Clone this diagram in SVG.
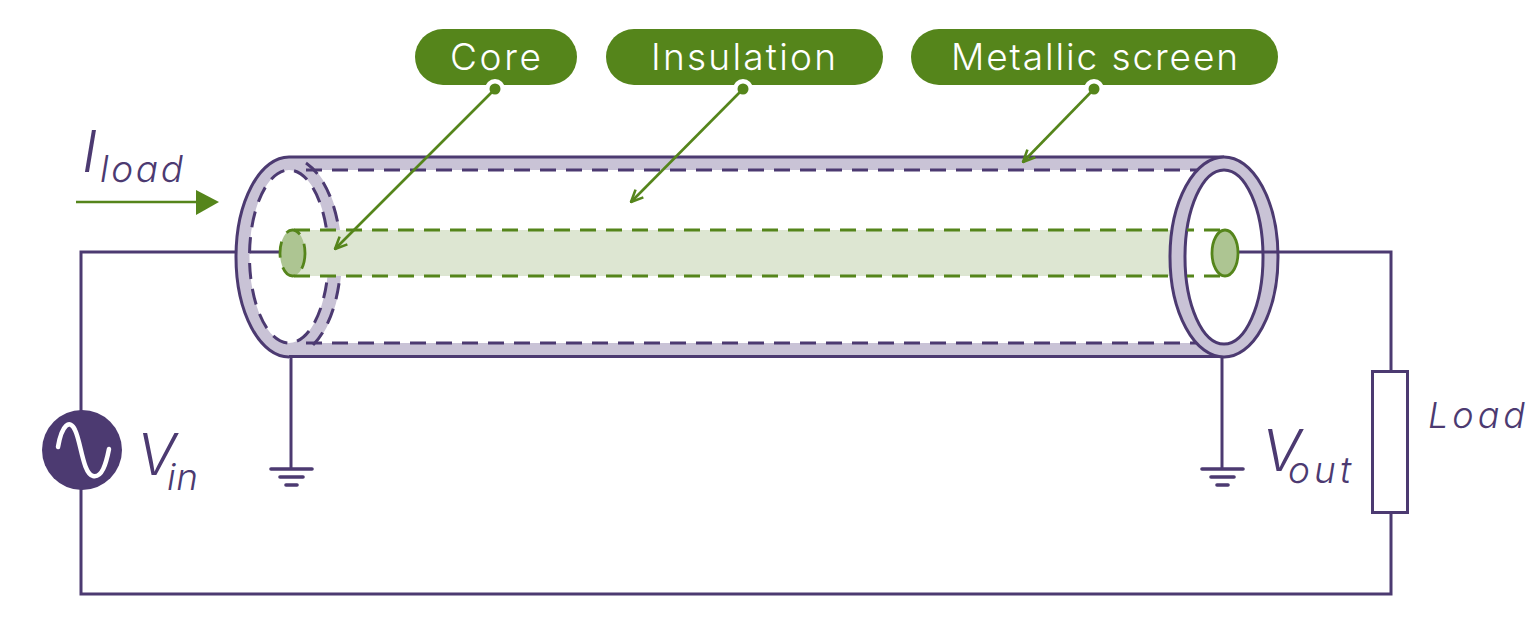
<svg xmlns="http://www.w3.org/2000/svg" width="1536" height="622" viewBox="0 0 1536 622">
<defs>
<style>
.w{fill:none;stroke:#4c3a71;stroke-width:3}
.d{fill:none;stroke:#4c3a71;stroke-width:3;stroke-dasharray:16 10}
.g{fill:none;stroke:#55851b;stroke-width:2.8;stroke-dasharray:16 10}
.a{fill:none;stroke:#55851b;stroke-width:2.6}
.bar{fill:none;stroke:#4c3a71;stroke-width:3.6;stroke-linecap:round}
.band{fill:#c9c3d6}
.pill{fill:#55851b}
.pt{font-family:"Inter","Open Sans",sans-serif;font-weight:300;font-size:37px;fill:#fff}
.lab{font-family:"Inter","Open Sans",sans-serif;font-weight:300;font-style:italic;fill:#4c3a71}
</style>
<marker id="ah" viewBox="0 0 14 14" refX="13" refY="7" markerWidth="14" markerHeight="14" markerUnits="userSpaceOnUse" orient="auto">
<path d="M1 1.500 L13 7 L1 12.500" fill="none" stroke="#55851b" stroke-width="2.6"/>
</marker>
<clipPath id="coreclip"><path d="M280 220H1171V286H1187V220H1230V286H280Z" clip-rule="evenodd"/></clipPath>
</defs>
<rect width="1536" height="622" fill="#fff"/>

<g id="connectors">
<path class="w" d="M281 252H81V594H1391V252H1238"/>
<path class="w" d="M291 356V469"/>
<path class="w" d="M1222 356V469"/>
</g>

<g id="cable">
<path class="band" fill-rule="evenodd" d="M289 157a53 100 0 1 0 0 200a53 100 0 1 0 0 -200ZM289 170a39.500 86.500 0 1 1 0 173a39.500 86.500 0 1 1 0 -173Z"/>
<rect class="band" x="289" y="157" width="935" height="13"/>
<rect class="band" x="289" y="343" width="935" height="13.500"/>
<path class="w" d="M289 157H1224M289 356.500H1224"/>
<path class="w" d="M289 157A53 100 0 0 0 289 357"/>
<path class="d" d="M306 170H1200M306 343H1200"/>
<path class="d" d="M306 163A53 100 0 0 1 306 351"/>
<ellipse class="d" cx="289" cy="256.500" rx="39.500" ry="86.500"/>
</g>

<g id="core">
<rect x="292" y="230" width="886" height="46" fill="#dde6d2"/>
<ellipse cx="292.500" cy="253" rx="12.500" ry="23" fill="#adc592"/>
<ellipse class="g" cx="292.500" cy="253" rx="12.500" ry="23"/>
</g>

<g id="ring">
<path class="band" fill-rule="evenodd" stroke="#4c3a71" stroke-width="3" d="M1224 157a54 100 0 1 0 0 200a54 100 0 1 0 0 -200ZM1224 170a39 87 0 1 1 0 174a39 87 0 1 1 0 -174Z"/>
<path class="w" d="M1264 252H1278"/>
<path class="g" d="M294 230H1224M294 276H1224" clip-path="url(#coreclip)"/>
<ellipse cx="1225" cy="253" rx="13" ry="23" fill="#adc592" stroke="#55851b" stroke-width="2.8"/>
</g>

<g id="source">
<circle cx="82" cy="450" r="40" fill="#4c3a71"/>
<path d="M58 447C62 424 70 419 75 430C81 442 83 474 93 476C102 478 106 464 109 449" fill="none" stroke="#fff" stroke-width="4.500" stroke-linecap="round"/>
<text class="lab" x="137" y="475" font-size="58">V</text>
<text class="lab" x="167" y="490" font-size="37" textLength="31">in</text>
</g>

<g id="ground-left">
<path class="bar" d="M271 469H312"/>
<path class="bar" d="M280 477H303"/>
<path class="bar" d="M286 485H297"/>
</g>
<g id="ground-right">
<path class="bar" d="M1202 469H1243"/>
<path class="bar" d="M1211 477H1234"/>
<path class="bar" d="M1217 485H1228"/>
</g>

<g id="load">
<rect x="1372.500" y="371.500" width="35" height="141" fill="#fff" stroke="#4c3a71" stroke-width="3"/>
<text class="lab" x="1428" y="428" font-size="36" textLength="97">Load</text>
</g>
<g id="vout">
<text class="lab" x="1262" y="471" font-size="58">V</text>
<text class="lab" x="1288" y="483" font-size="37" textLength="63">out</text>
</g>

<g id="iload">
<text class="lab" x="82" y="172" font-size="58">I</text>
<text class="lab" x="100" y="182" font-size="37" textLength="83">load</text>
<path d="M76 202H200" fill="none" stroke="#55851b" stroke-width="2.6"/>
<path d="M196 190L219 202L196 215Z" fill="#55851b"/>
</g>

<g id="callout-core">
<rect class="pill" x="415" y="29" width="162" height="56" rx="28"/>
<text class="pt" x="450" y="70" textLength="91">Core</text>
<circle cx="495" cy="89" r="10" fill="#fff"/>
<circle cx="495" cy="89" r="5.500" fill="#55851b"/>
<path class="a" d="M495 89L335 249" marker-end="url(#ah)"/>
</g>
<g id="callout-insulation">
<rect class="pill" x="606" y="29" width="277" height="56" rx="28"/>
<text class="pt" x="651" y="70" textLength="185">Insulation</text>
<circle cx="743" cy="89" r="10" fill="#fff"/>
<circle cx="743" cy="89" r="5.500" fill="#55851b"/>
<path class="a" d="M743 89L631 202" marker-end="url(#ah)"/>
</g>
<g id="callout-screen">
<rect class="pill" x="911" y="29" width="367" height="56" rx="28"/>
<text class="pt" x="951" y="70" textLength="287">Metallic screen</text>
<circle cx="1094" cy="89" r="10" fill="#fff"/>
<circle cx="1094" cy="89" r="5.500" fill="#55851b"/>
<path class="a" d="M1094 89L1023 162" marker-end="url(#ah)"/>
</g>
</svg>
